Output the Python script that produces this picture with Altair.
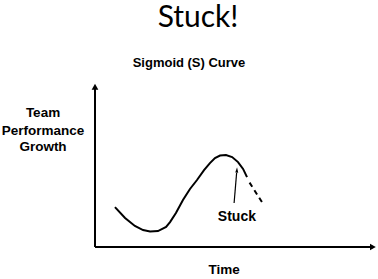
import altair as alt
import pandas as pd

# Curve (arbitrary units: time 0-100, growth 0-100)
curve_x = [7.1, 10.7, 14.2, 17.1, 19.6, 22.4, 25.3, 26.7, 28.8, 31.3, 33.8, 36.3, 38.8, 40.9, 42.7, 44.5, 46.6, 48.8, 50.9, 52.7, 54.1]
curve_y = [24.5, 17.8, 12.9, 10.4, 9.5, 9.8, 12.3, 15.3, 20.9, 28.8, 35.6, 41.1, 47.2, 51.5, 54.6, 56.1, 56.4, 55.2, 52.1, 47.9, 42.9]
dash_x = [55.0, 59.4]
dash_y = [39.5, 27.6]
stuck_arrow_x = [49.5, 50.4]
stuck_arrow_y = [27.0, 45.5]
stuck_head_x = [50.5]
stuck_head_y = [47.3]
stuck_label = "Stuck"
stuck_label_xy = (50.5, 18.4)

title_text = "Stuck!"
subtitle_text = "Sigmoid (S) Curve"
ylabel_lines = ["Team", "Performance", "Growth"]
xlabel_text = "Time"

xs = alt.Scale(domain=[0, 100])
ys = alt.Scale(domain=[0, 100])

curve_df = pd.DataFrame({"x": curve_x, "y": curve_y, "o": list(range(len(curve_x)))})
dash_df = pd.DataFrame({"x": dash_x, "y": dash_y, "o": [0, 1]})
arrow_df = pd.DataFrame({"x": [stuck_arrow_x[0]], "y": [stuck_arrow_y[0]], "x2": [stuck_arrow_x[1]], "y2": [stuck_arrow_y[1]]})
axes_df = pd.DataFrame({"x": [0, 0], "y": [0, 0], "x2": [99, 0], "y2": [0, 98]})
heads_df = pd.DataFrame({"x": [98.9, 0], "y": [0, 98.3], "shape": ["triangle-right", "triangle-up"]})
stuck_head_df = pd.DataFrame({"x": stuck_head_x, "y": stuck_head_y})
stuck_df = pd.DataFrame({"x": [stuck_label_xy[0]], "y": [stuck_label_xy[1]], "t": [stuck_label]})
dummy = pd.DataFrame({"a": [0]})

X = lambda f="x": alt.X(f"{f}:Q", scale=xs, axis=None)
Y = lambda f="y": alt.Y(f"{f}:Q", scale=ys, axis=None)

curve = alt.Chart(curve_df).mark_line(color="black", strokeWidth=2, clip=False).encode(
    x=X(), y=Y(), order="o:Q")
dashed = alt.Chart(dash_df).mark_line(color="black", strokeWidth=2, strokeDash=[5, 4], clip=False).encode(
    x=X(), y=Y(), order="o:Q")
axes = alt.Chart(axes_df).mark_rule(color="black", strokeWidth=2, clip=False).encode(
    x=X(), y=Y(), x2="x2:Q", y2="y2:Q")
heads = alt.Chart(heads_df).mark_point(filled=True, color="black", size=45, opacity=1, clip=False).encode(
    x=X(), y=Y(), shape=alt.Shape("shape:N", scale=None, legend=None))
arrow = alt.Chart(arrow_df).mark_rule(color="black", strokeWidth=1.2, clip=False).encode(
    x=X(), y=Y(), x2="x2:Q", y2="y2:Q")
arrow_head = alt.Chart(stuck_head_df).mark_point(shape="M0,-1L0.55,1L-0.55,1Z", filled=True, color="black",
                                                 size=30, angle=3, opacity=1, clip=False).encode(
    x=X(), y=Y())
stuck = alt.Chart(stuck_df).mark_text(font="Liberation Sans", fontWeight="bold", fontSize=14, color="black", clip=False).encode(
    x=X(), y=Y(), text="t:N")

def label(txt, px, py, size, font="Liberation Sans", weight="bold", baseline="middle"):
    return alt.Chart(dummy).mark_text(text=txt, font=font, fontWeight=weight, fontSize=size,
                                      color="black", baseline=baseline, align="center").encode(
        x=alt.value(px), y=alt.value(py))

t1 = label(title_text, 103, -81, 30, font="Lato", weight="normal", baseline="top")
t2 = label(subtitle_text, 94, -21, 13)
yl = [label(s, -52, py, 13.5) for s, py in zip(ylabel_lines, [29, 47, 63])]
xl = label(xlabel_text, 129, 186, 13.5)

chart = alt.layer(axes, heads, curve, dashed, arrow, arrow_head, stuck, t1, t2, *yl, xl).properties(
    width=281, height=163,
    autosize=alt.AutoSizeParams(type="none"),
    padding={"left": 95, "top": 84, "right": 2, "bottom": 32},
    background="white",
).configure_view(strokeWidth=0)

chart.save("out.html", embed_options={"renderer": "svg", "actions": False})
